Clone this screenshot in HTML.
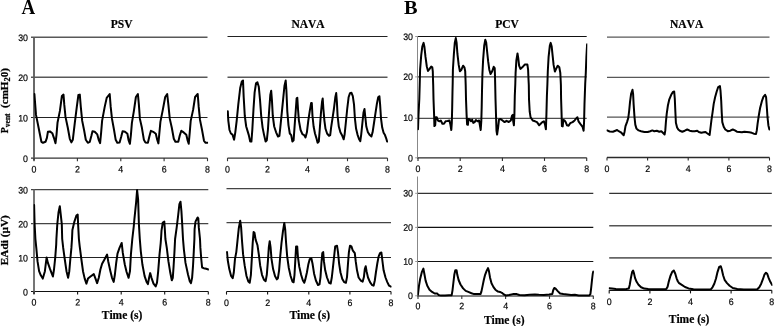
<!DOCTYPE html>
<html><head><meta charset="utf-8"><title>Figure</title>
<style>
html,body{margin:0;padding:0;background:#fff;}
svg{display:block;}
.tk{font-family:"Liberation Sans","DejaVu Sans",sans-serif;font-size:9.4px;fill:#000;stroke:#000;stroke-width:0.18px;}
.ttl{font-kerning:none;font-family:"Liberation Serif","DejaVu Serif",serif;font-weight:bold;font-size:11.5px;fill:#000;stroke:#000;stroke-width:0.2px;}
.big{font-family:"Liberation Serif","DejaVu Serif",serif;font-weight:bold;font-size:19px;fill:#000;}
.yl{font-family:"Liberation Serif","DejaVu Serif",serif;font-weight:bold;font-size:10.5px;fill:#000;stroke:#000;stroke-width:0.25px;}
.sub{font-size:8px;}
</style></head><body>
<svg width="774" height="326" viewBox="0 0 774 326">
<rect width="774" height="326" fill="#fff"/>
<line x1="31" y1="37.2" x2="207.5" y2="37.2" stroke="#585858" stroke-width="1.4"/>
<line x1="31" y1="77.2" x2="207.5" y2="77.2" stroke="#585858" stroke-width="1.4"/>
<line x1="31" y1="117.5" x2="207.5" y2="117.5" stroke="#222" stroke-width="1"/>
<line x1="31" y1="158.1" x2="207.5" y2="158.1" stroke="#333" stroke-width="1.2"/>
<line x1="34" y1="37" x2="34" y2="160.6" stroke="#585858" stroke-width="1.8"/>
<line x1="34.0" y1="158.1" x2="34.0" y2="161.2" stroke="#333" stroke-width="1.1"/>
<text transform="translate(34.0,172.5) rotate(0.03) scale(0.94,1)" class="tk" text-anchor="middle" >0</text>
<line x1="77.4" y1="158.1" x2="77.4" y2="161.2" stroke="#333" stroke-width="1.1"/>
<text transform="translate(77.4,172.5) rotate(0.03) scale(0.94,1)" class="tk" text-anchor="middle" >2</text>
<line x1="120.8" y1="158.1" x2="120.8" y2="161.2" stroke="#333" stroke-width="1.1"/>
<text transform="translate(120.8,172.5) rotate(0.03) scale(0.94,1)" class="tk" text-anchor="middle" >4</text>
<line x1="164.1" y1="158.1" x2="164.1" y2="161.2" stroke="#333" stroke-width="1.1"/>
<text transform="translate(164.1,172.5) rotate(0.03) scale(0.94,1)" class="tk" text-anchor="middle" >6</text>
<line x1="207.5" y1="158.1" x2="207.5" y2="161.2" stroke="#333" stroke-width="1.1"/>
<text transform="translate(207.5,172.5) rotate(0.03) scale(0.94,1)" class="tk" text-anchor="middle" >8</text>
<text transform="translate(28,40.9) rotate(0.03) scale(0.94,1)" class="tk" text-anchor="end" >30</text>
<text transform="translate(28,80.9) rotate(0.03) scale(0.94,1)" class="tk" text-anchor="end" >20</text>
<text transform="translate(28,121.4) rotate(0.03) scale(0.94,1)" class="tk" text-anchor="end" >10</text>
<text transform="translate(28,162.0) rotate(0.03) scale(0.94,1)" class="tk" text-anchor="end" >0</text>
<clipPath id="cA1"><rect x="33.6" y="0" width="174.5" height="326"/></clipPath>
<g clip-path="url(#cA1)">
<path d="M34.4,94.0 L36.0,114.9 L38.0,124.8 L40.0,134.8 L41.4,141.8 L43.0,142.8 L45.5,141.8 L46.9,137.8 L47.9,131.8 L49.9,131.4 L52.3,133.2 L53.9,137.8 L55.5,143.2 L56.5,134.8 L57.5,122.8 L59.9,110.9 L61.9,96.0 L63.5,94.6 L64.3,104.9 L65.5,116.9 L67.8,127.8 L69.8,138.8 L71.4,142.4 L72.8,139.8 L74.8,122.8 L76.8,106.9 L78.4,95.0 L79.8,94.6 L80.8,106.9 L82.2,120.9 L84.2,130.8 L85.8,139.8 L87.8,142.8 L89.8,141.8 L91.4,135.8 L92.5,131.2 L94.7,131.8 L97.3,134.4 L98.7,139.8 L100.1,143.2 L101.1,132.8 L102.1,120.9 L104.7,106.9 L106.7,97.9 L109.7,94.0 L110.7,106.9 L112.0,118.9 L114.0,129.8 L115.7,139.8 L117.3,142.8 L119.6,142.4 L121.2,136.8 L122.6,131.2 L125.0,131.8 L127.4,133.8 L128.5,139.8 L129.9,143.8 L130.9,134.8 L131.9,122.8 L133.9,110.9 L135.9,97.0 L137.9,94.0 L138.9,104.9 L139.9,118.9 L141.9,127.8 L143.9,139.8 L145.3,142.4 L147.9,142.8 L149.3,136.8 L150.9,130.8 L153.2,131.8 L155.8,133.8 L157.2,139.8 L158.4,143.4 L159.2,134.8 L160.4,121.9 L162.8,109.9 L165.2,97.0 L167.2,94.0 L168.4,104.9 L169.8,118.9 L171.8,127.8 L173.8,138.8 L175.4,141.8 L178.3,141.8 L179.7,135.8 L181.3,130.8 L183.7,132.4 L186.3,134.8 L187.7,140.8 L188.7,143.8 L189.7,132.8 L190.7,120.9 L193.1,109.9 L195.1,97.0 L197.7,94.0 L198.7,106.9 L200.0,119.9 L202.0,129.8 L204.0,140.8 L205.6,142.8 L207.6,142.8" fill="none" stroke="#000" stroke-width="2" stroke-linejoin="round" stroke-linecap="round"/>
</g>
<line x1="227.5" y1="36.5" x2="387.5" y2="36.5" stroke="#222" stroke-width="1"/>
<line x1="227.5" y1="77.2" x2="387.5" y2="77.2" stroke="#585858" stroke-width="1.4"/>
<line x1="227.5" y1="117.5" x2="387.5" y2="117.5" stroke="#222" stroke-width="1"/>
<line x1="227.5" y1="158.1" x2="387.5" y2="158.1" stroke="#333" stroke-width="1.2"/>
<line x1="227.5" y1="158.1" x2="227.5" y2="161.2" stroke="#333" stroke-width="1.1"/>
<text transform="translate(227.5,172.5) rotate(0.03) scale(0.94,1)" class="tk" text-anchor="middle" >0</text>
<line x1="267.5" y1="158.1" x2="267.5" y2="161.2" stroke="#333" stroke-width="1.1"/>
<text transform="translate(267.5,172.5) rotate(0.03) scale(0.94,1)" class="tk" text-anchor="middle" >2</text>
<line x1="307.5" y1="158.1" x2="307.5" y2="161.2" stroke="#333" stroke-width="1.1"/>
<text transform="translate(307.5,172.5) rotate(0.03) scale(0.94,1)" class="tk" text-anchor="middle" >4</text>
<line x1="347.5" y1="158.1" x2="347.5" y2="161.2" stroke="#333" stroke-width="1.1"/>
<text transform="translate(347.5,172.5) rotate(0.03) scale(0.94,1)" class="tk" text-anchor="middle" >6</text>
<line x1="387.5" y1="158.1" x2="387.5" y2="161.2" stroke="#333" stroke-width="1.1"/>
<text transform="translate(387.5,172.5) rotate(0.03) scale(0.94,1)" class="tk" text-anchor="middle" >8</text>
<clipPath id="cA2"><rect x="227.1" y="0" width="161.0" height="326"/></clipPath>
<g clip-path="url(#cA2)">
<path d="M227.8,111.3 L228.3,120.6 L229.5,130.0 L230.9,133.5 L232.5,134.6 L234.1,139.7 L235.3,132.3 L236.7,120.6 L238.3,104.3 L240.2,88.0 L241.8,81.5 L243.0,80.5 L243.7,97.3 L244.8,116.0 L246.2,126.5 L247.6,131.1 L248.8,135.1 L250.2,141.6 L251.4,141.6 L252.3,130.0 L253.5,109.0 L254.6,92.7 L256.0,83.3 L257.4,82.2 L258.8,86.8 L260.0,99.6 L261.2,116.0 L262.6,127.6 L264.0,134.6 L265.6,141.6 L266.8,140.4 L267.9,130.0 L269.1,111.3 L270.3,95.0 L271.2,90.8 L271.9,99.6 L272.8,116.0 L274.2,126.5 L276.1,132.3 L278.0,136.5 L279.4,135.8 L280.3,127.6 L281.7,113.6 L283.1,99.6 L284.5,85.7 L285.7,80.5 L286.4,90.3 L287.3,111.3 L288.5,125.3 L289.8,133.5 L291.2,135.1 L292.4,141.6 L293.6,140.4 L294.5,127.6 L295.7,111.3 L296.6,98.5 L297.3,97.8 L298.0,109.0 L298.9,120.6 L300.6,130.0 L302.4,134.2 L304.1,135.1 L305.5,137.4 L306.9,132.3 L308.3,120.6 L309.7,111.3 L311.1,103.1 L311.8,103.1 L312.5,116.0 L313.6,126.5 L315.0,133.5 L316.4,138.1 L317.6,142.8 L318.8,141.6 L319.7,130.0 L320.9,113.6 L322.0,102.0 L322.7,98.5 L323.4,109.0 L324.4,120.6 L325.5,128.8 L327.1,133.5 L329.0,135.8 L330.2,135.1 L331.1,127.6 L332.5,118.3 L333.9,109.0 L335.3,97.3 L336.2,93.1 L336.9,102.0 L337.6,116.0 L338.8,126.5 L340.4,132.3 L342.3,135.8 L343.7,139.3 L344.6,134.6 L345.8,123.0 L347.2,109.0 L348.6,97.3 L350.0,93.1 L351.4,92.7 L352.8,96.2 L354.0,104.3 L354.9,118.3 L356.1,128.8 L357.5,134.6 L359.1,139.3 L360.3,141.1 L361.2,134.6 L362.4,123.0 L363.5,112.5 L364.5,109.0 L365.2,116.0 L366.3,126.5 L367.9,132.3 L369.8,135.1 L371.4,136.5 L372.6,132.3 L374.0,123.0 L375.4,113.6 L376.8,104.3 L378.2,97.3 L379.4,96.2 L380.1,104.3 L381.0,118.3 L382.2,127.6 L383.6,132.8 L385.0,135.1 L386.1,138.1 L387.1,141.6" fill="none" stroke="#000" stroke-width="2" stroke-linejoin="round" stroke-linecap="round"/>
</g>
<line x1="31" y1="189.6" x2="208.3" y2="189.6" stroke="#444" stroke-width="1.2"/>
<line x1="31" y1="223.6" x2="208.3" y2="223.6" stroke="#444" stroke-width="1.2"/>
<line x1="31" y1="257.5" x2="208.3" y2="257.5" stroke="#222" stroke-width="1"/>
<line x1="31" y1="291.5" x2="208.3" y2="291.5" stroke="#111" stroke-width="1.2"/>
<line x1="34" y1="189.6" x2="34" y2="294.0" stroke="#666" stroke-width="1.8"/>
<line x1="34.0" y1="291.5" x2="34.0" y2="294.6" stroke="#111" stroke-width="1.1"/>
<text transform="translate(34.0,305.6) rotate(0.03) scale(0.94,1)" class="tk" text-anchor="middle" >0</text>
<line x1="77.6" y1="291.5" x2="77.6" y2="294.6" stroke="#111" stroke-width="1.1"/>
<text transform="translate(77.6,305.6) rotate(0.03) scale(0.94,1)" class="tk" text-anchor="middle" >2</text>
<line x1="121.2" y1="291.5" x2="121.2" y2="294.6" stroke="#111" stroke-width="1.1"/>
<text transform="translate(121.2,305.6) rotate(0.03) scale(0.94,1)" class="tk" text-anchor="middle" >4</text>
<line x1="164.7" y1="291.5" x2="164.7" y2="294.6" stroke="#111" stroke-width="1.1"/>
<text transform="translate(164.7,305.6) rotate(0.03) scale(0.94,1)" class="tk" text-anchor="middle" >6</text>
<line x1="208.3" y1="291.5" x2="208.3" y2="294.6" stroke="#111" stroke-width="1.1"/>
<text transform="translate(208.3,305.6) rotate(0.03) scale(0.94,1)" class="tk" text-anchor="middle" >8</text>
<text transform="translate(28,193.5) rotate(0.03) scale(0.94,1)" class="tk" text-anchor="end" >30</text>
<text transform="translate(28,227.5) rotate(0.03) scale(0.94,1)" class="tk" text-anchor="end" >20</text>
<text transform="translate(28,261.4) rotate(0.03) scale(0.94,1)" class="tk" text-anchor="end" >10</text>
<text transform="translate(28,295.4) rotate(0.03) scale(0.94,1)" class="tk" text-anchor="end" >0</text>
<clipPath id="cA3"><rect x="33.6" y="0" width="175.3" height="326"/></clipPath>
<g clip-path="url(#cA3)">
<path d="M34.1,205.1 L34.6,224.1 L35.4,239.0 L36.3,247.9 L37.5,261.2 L39.1,271.2 L40.8,275.3 L42.8,278.6 L44.9,271.2 L45.7,264.5 L46.6,257.6 L47.9,262.9 L49.9,268.7 L51.5,272.8 L52.9,276.5 L54.0,269.5 L55.2,257.9 L56.2,244.6 L56.4,239.0 L57.3,224.1 L58.5,212.5 L59.8,206.2 L60.7,214.2 L61.8,224.1 L62.2,239.0 L63.2,247.9 L64.8,259.5 L66.5,271.2 L68.1,277.8 L69.3,271.2 L70.3,259.5 L71.4,247.9 L72.0,239.0 L72.4,229.9 L74.4,221.6 L76.4,215.5 L77.7,214.5 L78.1,224.1 L78.9,239.0 L79.7,246.3 L81.4,259.5 L83.0,271.2 L84.7,278.6 L86.4,283.6 L88.0,278.6 L90.5,276.5 L93.8,274.1 L95.5,278.6 L97.1,283.1 L98.8,277.8 L100.4,269.5 L102.1,263.7 L104.6,259.2 L107.1,254.6 L108.2,261.2 L110.4,271.2 L112.0,277.8 L113.7,281.9 L114.9,274.5 L116.2,262.9 L117.5,253.7 L119.5,247.9 L121.7,243.0 L122.8,252.9 L124.8,264.5 L126.6,272.0 L128.6,277.8 L130.0,271.0 L130.9,254.6 L132.3,239.0 L133.8,226.0 L134.4,219.2 L136.1,202.6 L137.1,190.1 L138.1,199.3 L138.9,224.1 L139.8,239.0 L140.8,251.3 L142.4,264.5 L144.6,276.1 L146.6,281.9 L147.9,284.1 L149.1,277.8 L150.2,273.1 L151.5,277.8 L153.5,283.6 L155.7,286.4 L157.0,282.7 L158.2,271.1 L159.5,254.6 L160.7,243.0 L161.0,239.0 L161.5,230.7 L162.8,222.5 L164.3,221.6 L164.8,229.1 L165.4,239.0 L166.8,247.9 L168.4,261.2 L170.3,272.8 L171.8,280.3 L172.8,277.8 L173.6,266.2 L174.4,252.9 L175.1,239.0 L176.7,227.4 L178.1,215.8 L179.4,204.2 L180.5,201.7 L181.4,210.9 L182.2,224.1 L183.0,239.0 L183.9,249.6 L185.5,262.9 L188.0,274.5 L189.7,281.1 L191.0,283.1 L192.1,277.8 L193.0,266.2 L193.8,251.3 L194.4,239.0 L194.6,229.1 L195.5,221.6 L197.6,217.5 L198.3,218.3 L198.8,227.4 L200.0,239.0 L200.4,247.9 L201.3,259.5 L202.1,267.5 L203.7,268.2 L206.2,268.7 L208.4,269.5" fill="none" stroke="#000" stroke-width="2" stroke-linejoin="round" stroke-linecap="round"/>
</g>
<line x1="226.5" y1="188.6" x2="391" y2="188.6" stroke="#444" stroke-width="1.2"/>
<line x1="226.5" y1="222.6" x2="391" y2="222.6" stroke="#444" stroke-width="1.2"/>
<line x1="226.5" y1="257.5" x2="391" y2="257.5" stroke="#222" stroke-width="1"/>
<line x1="226.5" y1="291.5" x2="391" y2="291.5" stroke="#111" stroke-width="1.2"/>
<line x1="226.5" y1="291.5" x2="226.5" y2="294.6" stroke="#111" stroke-width="1.1"/>
<text transform="translate(226.5,306.1) rotate(0.03) scale(0.94,1)" class="tk" text-anchor="middle" >0</text>
<line x1="267.6" y1="291.5" x2="267.6" y2="294.6" stroke="#111" stroke-width="1.1"/>
<text transform="translate(267.6,306.1) rotate(0.03) scale(0.94,1)" class="tk" text-anchor="middle" >2</text>
<line x1="308.8" y1="291.5" x2="308.8" y2="294.6" stroke="#111" stroke-width="1.1"/>
<text transform="translate(308.8,306.1) rotate(0.03) scale(0.94,1)" class="tk" text-anchor="middle" >4</text>
<line x1="349.9" y1="291.5" x2="349.9" y2="294.6" stroke="#111" stroke-width="1.1"/>
<text transform="translate(349.9,306.1) rotate(0.03) scale(0.94,1)" class="tk" text-anchor="middle" >6</text>
<line x1="391.0" y1="291.5" x2="391.0" y2="294.6" stroke="#111" stroke-width="1.1"/>
<text transform="translate(391.0,306.1) rotate(0.03) scale(0.94,1)" class="tk" text-anchor="middle" >8</text>
<clipPath id="cA4"><rect x="226.1" y="0" width="165.5" height="326"/></clipPath>
<g clip-path="url(#cA4)">
<path d="M227.0,252.1 L227.7,260.0 L229.3,269.1 L231.1,276.0 L232.7,278.2 L233.8,272.5 L235.0,258.9 L236.3,252.1 L237.5,240.7 L238.8,228.2 L240.2,220.7 L241.1,227.1 L242.0,240.7 L243.1,254.4 L244.7,265.7 L246.5,276.0 L248.4,281.6 L249.7,282.8 L250.9,274.8 L251.8,258.9 L252.7,243.0 L253.6,232.1 L254.5,232.8 L255.6,239.6 L257.5,245.3 L258.8,254.4 L260.2,265.7 L262.0,274.8 L264.0,279.8 L265.6,281.2 L266.8,274.8 L267.9,261.2 L268.8,247.5 L269.7,241.2 L270.6,247.5 L271.5,258.9 L273.1,269.1 L275.0,276.0 L276.8,279.4 L277.9,278.2 L279.1,270.3 L280.2,256.6 L281.5,243.0 L282.9,231.6 L284.3,223.0 L285.2,229.4 L286.1,243.0 L287.2,256.6 L288.8,268.0 L290.6,276.0 L292.5,281.6 L293.6,282.3 L294.5,274.8 L295.4,258.9 L296.1,246.4 L297.2,246.4 L297.9,256.6 L299.3,266.9 L301.1,274.8 L302.9,280.5 L304.3,282.8 L305.3,279.4 L306.9,272.5 L308.3,264.6 L309.7,259.2 L311.4,258.5 L312.5,263.5 L314.1,273.7 L315.9,280.5 L318.0,285.0 L319.5,284.4 L320.5,277.1 L321.4,263.5 L322.3,253.2 L323.2,252.1 L323.9,261.2 L325.2,270.3 L327.0,277.5 L329.1,282.8 L330.7,283.5 L331.8,277.5 L333.0,266.9 L334.1,256.6 L335.2,246.4 L337.0,245.7 L338.0,252.1 L339.1,263.5 L340.5,272.5 L342.3,278.9 L344.1,282.1 L345.9,282.8 L347.0,277.1 L348.0,263.5 L348.9,252.1 L350.0,245.7 L351.4,246.4 L352.7,250.3 L354.8,253.2 L355.7,261.2 L357.0,270.3 L358.6,277.5 L360.7,280.5 L362.7,281.6 L363.9,277.1 L364.8,269.1 L365.7,266.2 L366.6,271.4 L368.0,277.5 L370.0,282.1 L372.0,285.0 L373.6,285.7 L374.8,280.5 L375.9,272.5 L377.3,263.5 L378.6,256.6 L380.0,253.2 L381.4,252.5 L382.3,260.0 L383.6,270.3 L385.5,277.5 L387.3,282.1 L389.1,285.7 L390.9,286.6" fill="none" stroke="#000" stroke-width="2" stroke-linejoin="round" stroke-linecap="round"/>
</g>
<line x1="415.2" y1="36.5" x2="418" y2="36.5" stroke="#999" stroke-width="1"/>
<line x1="418" y1="36.5" x2="586.7" y2="36.5" stroke="#111" stroke-width="1"/>
<line x1="415.2" y1="76.9" x2="418" y2="76.9" stroke="#999" stroke-width="1"/>
<line x1="418" y1="76.9" x2="586.7" y2="76.9" stroke="#4a4a4a" stroke-width="1.3"/>
<line x1="415.2" y1="118.3" x2="418" y2="118.3" stroke="#999" stroke-width="1"/>
<line x1="418" y1="118.3" x2="586.7" y2="118.3" stroke="#222" stroke-width="1"/>
<line x1="415.2" y1="157.8" x2="418" y2="157.8" stroke="#999" stroke-width="1"/>
<line x1="418" y1="157.8" x2="586.7" y2="157.8" stroke="#2a2a2a" stroke-width="1.3"/>
<line x1="417.5" y1="36.5" x2="417.5" y2="158.8" stroke="#888" stroke-width="1"/>
<line x1="418.0" y1="157.8" x2="418.0" y2="160.9" stroke="#2a2a2a" stroke-width="1.1"/>
<text transform="translate(418.0,172.1) rotate(0.03) scale(0.94,1)" class="tk" text-anchor="middle" >0</text>
<line x1="460.2" y1="157.8" x2="460.2" y2="160.9" stroke="#2a2a2a" stroke-width="1.1"/>
<text transform="translate(460.2,172.1) rotate(0.03) scale(0.94,1)" class="tk" text-anchor="middle" >2</text>
<line x1="502.4" y1="157.8" x2="502.4" y2="160.9" stroke="#2a2a2a" stroke-width="1.1"/>
<text transform="translate(502.4,172.1) rotate(0.03) scale(0.94,1)" class="tk" text-anchor="middle" >4</text>
<line x1="544.5" y1="157.8" x2="544.5" y2="160.9" stroke="#2a2a2a" stroke-width="1.1"/>
<text transform="translate(544.5,172.1) rotate(0.03) scale(0.94,1)" class="tk" text-anchor="middle" >6</text>
<line x1="586.7" y1="157.8" x2="586.7" y2="160.9" stroke="#2a2a2a" stroke-width="1.1"/>
<text transform="translate(586.7,172.1) rotate(0.03) scale(0.94,1)" class="tk" text-anchor="middle" >8</text>
<text transform="translate(413,40.0) rotate(0.03) scale(0.94,1)" class="tk" text-anchor="end" >30</text>
<text transform="translate(413,80.1) rotate(0.03) scale(0.94,1)" class="tk" text-anchor="end" >20</text>
<text transform="translate(413,120.9) rotate(0.03) scale(0.94,1)" class="tk" text-anchor="end" >10</text>
<text transform="translate(413,161.5) rotate(0.03) scale(0.94,1)" class="tk" text-anchor="end" >0</text>
<clipPath id="cB1"><rect x="417.6" y="0" width="169.7" height="326"/></clipPath>
<g clip-path="url(#cB1)">
<path d="M418.0,129.3 L418.5,114.9 L419.3,99.0 L419.7,85.0 L420.1,69.7 L421.2,55.3 L422.3,46.6 L423.6,42.9 L424.4,46.6 L425.5,56.9 L426.8,66.5 L428.0,71.0 L429.6,68.9 L431.2,66.5 L432.3,67.3 L432.8,71.3 L433.0,79.3 L433.2,85.0 L433.5,99.0 L434.1,114.9 L434.4,126.1 L435.2,125.3 L435.7,117.3 L436.8,117.3 L437.9,120.5 L439.5,121.3 L440.8,120.5 L442.4,123.7 L444.0,123.7 L445.6,121.3 L447.5,121.0 L449.4,120.5 L450.4,124.5 L451.3,130.0 L451.8,122.9 L452.2,106.9 L452.5,91.0 L452.7,83.0 L452.9,69.7 L453.9,53.7 L454.8,42.6 L455.8,38.1 L456.6,42.6 L457.4,53.7 L458.7,64.9 L459.9,71.3 L461.4,69.7 L463.1,65.7 L464.4,67.3 L465.2,71.3 L465.5,79.3 L465.7,85.0 L466.0,99.0 L466.6,114.9 L467.1,124.5 L467.9,124.8 L468.5,118.9 L469.8,119.7 L471.1,121.3 L472.1,119.7 L473.3,122.9 L474.6,122.1 L475.9,120.0 L477.5,121.3 L479.1,120.5 L479.9,125.3 L480.7,130.0 L481.3,121.3 L481.7,106.9 L482.0,91.0 L482.2,83.0 L482.4,74.5 L483.1,60.1 L484.2,45.8 L485.3,39.7 L486.2,42.6 L487.0,50.5 L488.2,61.7 L489.3,69.7 L490.6,74.1 L492.2,71.3 L493.7,66.8 L494.7,68.1 L495.0,76.1 L495.2,85.0 L495.5,99.0 L496.1,118.1 L496.5,130.8 L497.1,134.6 L498.1,127.7 L499.0,119.7 L500.4,118.9 L502.5,120.5 L504.6,122.1 L506.5,120.8 L508.8,122.0 L510.8,120.5 L512.0,115.7 L512.8,114.9 L513.2,121.3 L513.9,125.3 L514.4,114.9 L514.8,95.8 L515.3,84.0 L515.6,72.9 L516.4,60.1 L517.5,53.4 L518.3,58.5 L519.1,65.7 L520.4,68.9 L522.3,67.3 L524.7,64.6 L527.4,64.6 L528.1,69.7 L528.5,79.3 L528.8,85.0 L529.0,99.0 L529.7,111.7 L530.6,117.3 L532.7,120.5 L535.1,121.3 L537.0,122.1 L539.1,125.3 L540.7,123.7 L542.3,122.1 L543.9,121.3 L545.0,124.5 L545.9,129.3 L546.4,114.9 L546.9,95.8 L547.4,84.0 L547.8,71.3 L548.6,56.9 L549.8,45.8 L550.7,42.9 L551.7,46.6 L552.6,55.3 L553.6,64.9 L554.9,71.6 L556.1,68.9 L557.7,65.7 L559.3,67.3 L560.3,72.9 L560.7,80.8 L560.9,85.0 L561.1,99.0 L561.6,114.9 L561.9,126.1 L562.7,126.4 L563.3,120.0 L564.6,120.5 L565.7,122.1 L567.0,125.3 L568.6,125.7 L570.2,123.2 L572.6,122.1 L574.6,120.5 L576.2,118.4 L577.4,117.3 L578.5,121.3 L580.5,124.1 L582.6,126.9 L583.6,130.8 L584.1,121.3 L584.5,103.7 L585.2,84.0 L585.8,72.9 L586.4,56.9 L587.1,44.2" fill="none" stroke="#000" stroke-width="2" stroke-linejoin="round" stroke-linecap="round"/>
</g>
<line x1="607" y1="37.1" x2="769.5" y2="37.1" stroke="#585858" stroke-width="1.4"/>
<line x1="607" y1="77.4" x2="769.5" y2="77.4" stroke="#585858" stroke-width="1.4"/>
<line x1="607" y1="117.1" x2="769.5" y2="117.1" stroke="#555" stroke-width="1.2"/>
<line x1="607" y1="157.5" x2="769.5" y2="157.5" stroke="#2a2a2a" stroke-width="1.3"/>
<line x1="607.0" y1="157.5" x2="607.0" y2="160.6" stroke="#2a2a2a" stroke-width="1.1"/>
<text transform="translate(607.0,172.1) rotate(0.03) scale(0.94,1)" class="tk" text-anchor="middle" >0</text>
<line x1="647.6" y1="157.5" x2="647.6" y2="160.6" stroke="#2a2a2a" stroke-width="1.1"/>
<text transform="translate(647.6,172.1) rotate(0.03) scale(0.94,1)" class="tk" text-anchor="middle" >2</text>
<line x1="688.2" y1="157.5" x2="688.2" y2="160.6" stroke="#2a2a2a" stroke-width="1.1"/>
<text transform="translate(688.2,172.1) rotate(0.03) scale(0.94,1)" class="tk" text-anchor="middle" >4</text>
<line x1="728.9" y1="157.5" x2="728.9" y2="160.6" stroke="#2a2a2a" stroke-width="1.1"/>
<text transform="translate(728.9,172.1) rotate(0.03) scale(0.94,1)" class="tk" text-anchor="middle" >6</text>
<line x1="769.5" y1="157.5" x2="769.5" y2="160.6" stroke="#2a2a2a" stroke-width="1.1"/>
<text transform="translate(769.5,172.1) rotate(0.03) scale(0.94,1)" class="tk" text-anchor="middle" >8</text>
<clipPath id="cB2"><rect x="606.6" y="0" width="163.5" height="326"/></clipPath>
<g clip-path="url(#cB2)">
<path d="M607.1,130.4 L609.6,131.5 L612.9,131.7 L615.4,130.7 L617.1,130.0 L618.7,131.2 L620.9,132.3 L622.5,134.0 L623.7,135.3 L624.5,132.0 L625.5,126.2 L627.0,122.1 L628.3,117.9 L629.2,110.5 L630.0,102.2 L631.1,93.9 L632.5,89.8 L633.1,93.9 L633.6,103.9 L634.5,117.1 L635.3,124.6 L636.4,128.4 L638.6,130.4 L641.1,131.2 L644.4,132.0 L647.7,132.0 L650.2,131.2 L652.3,130.4 L654.3,131.2 L656.8,130.7 L659.3,131.7 L661.3,131.2 L662.9,132.8 L664.6,134.5 L665.3,130.4 L665.9,122.1 L666.7,113.8 L667.9,105.5 L669.2,99.7 L671.2,94.8 L672.9,91.9 L674.2,91.5 L674.8,98.9 L675.3,110.5 L675.9,122.8 L677.1,127.4 L678.3,129.5 L679.8,130.7 L682.3,131.7 L684.8,130.7 L687.2,129.5 L689.7,130.7 L692.2,131.2 L694.7,131.2 L697.2,130.7 L698.8,132.0 L701.3,132.8 L703.8,132.3 L705.5,132.0 L707.1,133.3 L708.8,134.5 L709.6,135.0 L710.4,128.7 L711.4,120.4 L712.6,112.1 L713.7,103.9 L715.1,97.2 L716.7,91.5 L718.2,87.0 L719.9,86.0 L720.5,90.6 L721.2,100.6 L721.7,112.1 L722.3,122.1 L723.7,126.7 L725.3,129.5 L727.8,131.2 L730.3,130.7 L732.8,129.5 L734.9,130.4 L736.9,131.7 L739.4,132.0 L741.9,132.3 L744.4,131.7 L746.8,132.0 L749.3,132.3 L751.8,132.8 L753.8,133.7 L756.0,134.0 L756.8,130.4 L757.6,123.7 L758.8,115.5 L760.1,108.0 L761.8,101.4 L763.4,96.9 L765.1,94.8 L766.1,97.2 L766.7,105.5 L767.5,117.1 L768.4,125.4 L769.4,129.5" fill="none" stroke="#000" stroke-width="2" stroke-linejoin="round" stroke-linecap="round"/>
</g>
<line x1="415.2" y1="193.3" x2="418" y2="193.3" stroke="#999" stroke-width="1"/>
<line x1="418" y1="193.3" x2="593.3" y2="193.3" stroke="#333" stroke-width="1.2"/>
<line x1="415.2" y1="227.4" x2="418" y2="227.4" stroke="#999" stroke-width="1"/>
<line x1="418" y1="227.4" x2="593.3" y2="227.4" stroke="#111" stroke-width="1.1"/>
<line x1="415.2" y1="261.5" x2="418" y2="261.5" stroke="#999" stroke-width="1"/>
<line x1="418" y1="261.5" x2="593.3" y2="261.5" stroke="#111" stroke-width="1"/>
<line x1="415.2" y1="295.8" x2="418" y2="295.8" stroke="#999" stroke-width="1"/>
<line x1="418" y1="296.0" x2="593.3" y2="296.0" stroke="#585858" stroke-width="1.4"/>
<line x1="417.5" y1="176.5" x2="417.5" y2="296.8" stroke="#888" stroke-width="1"/>
<line x1="418.0" y1="295.8" x2="418.0" y2="298.9" stroke="#333" stroke-width="1.1"/>
<text transform="translate(418.0,309.3) rotate(0.03) scale(0.94,1)" class="tk" text-anchor="middle" >0</text>
<line x1="461.8" y1="295.8" x2="461.8" y2="298.9" stroke="#333" stroke-width="1.1"/>
<text transform="translate(461.8,309.3) rotate(0.03) scale(0.94,1)" class="tk" text-anchor="middle" >2</text>
<line x1="505.6" y1="295.8" x2="505.6" y2="298.9" stroke="#333" stroke-width="1.1"/>
<text transform="translate(505.6,309.3) rotate(0.03) scale(0.94,1)" class="tk" text-anchor="middle" >4</text>
<line x1="549.5" y1="295.8" x2="549.5" y2="298.9" stroke="#333" stroke-width="1.1"/>
<text transform="translate(549.5,309.3) rotate(0.03) scale(0.94,1)" class="tk" text-anchor="middle" >6</text>
<line x1="593.3" y1="295.8" x2="593.3" y2="298.9" stroke="#333" stroke-width="1.1"/>
<text transform="translate(593.3,309.3) rotate(0.03) scale(0.94,1)" class="tk" text-anchor="middle" >8</text>
<text transform="translate(413,196.6) rotate(0.03) scale(0.94,1)" class="tk" text-anchor="end" >30</text>
<text transform="translate(413,230.7) rotate(0.03) scale(0.94,1)" class="tk" text-anchor="end" >20</text>
<text transform="translate(413,264.8) rotate(0.03) scale(0.94,1)" class="tk" text-anchor="end" >10</text>
<text transform="translate(413,299.1) rotate(0.03) scale(0.94,1)" class="tk" text-anchor="end" >0</text>
<clipPath id="cB3"><rect x="417.6" y="0" width="176.3" height="326"/></clipPath>
<g clip-path="url(#cB3)">
<path d="M417.9,294.8 L418.9,286.4 L420.2,278.7 L421.8,272.2 L423.4,268.6 L424.3,273.5 L425.6,280.6 L427.3,285.8 L429.5,289.7 L432.1,291.9 L434.7,293.5 L437.3,293.5 L438.5,295.0 L441.1,295.6 L445.0,295.6 L448.9,295.2 L451.7,295.2 L452.5,290.3 L453.4,282.5 L454.3,274.8 L455.3,270.3 L456.6,270.3 L457.3,274.8 L458.6,280.0 L460.5,284.5 L463.1,288.4 L465.7,290.9 L468.3,291.9 L471.5,293.2 L474.1,294.1 L477.3,294.1 L480.5,294.1 L481.4,291.6 L482.5,286.4 L483.8,280.0 L485.1,274.8 L486.6,270.9 L488.0,268.1 L488.9,270.9 L490.0,277.4 L491.5,283.2 L493.5,287.1 L495.4,289.7 L498.0,291.6 L500.0,291.9 L501.9,292.8 L503.9,294.5 L505.8,295.4 L509.0,295.0 L512.9,294.1 L516.8,294.1 L519.4,295.0 L524.5,295.2 L529.7,294.8 L534.9,294.5 L538.8,294.8 L543.9,295.0 L549.1,294.5 L552.3,294.1 L553.2,290.3 L554.3,288.0 L555.6,288.7 L557.5,290.9 L560.1,293.5 L563.3,294.1 L567.2,294.5 L571.1,295.0 L574.9,294.8 L578.8,295.4 L584.0,295.6 L589.1,295.6 L590.4,294.1 L591.2,287.7 L592.0,280.0 L592.8,273.5 L593.3,271.6" fill="none" stroke="#000" stroke-width="2" stroke-linejoin="round" stroke-linecap="round"/>
</g>
<line x1="609.2" y1="193.3" x2="771.8" y2="193.3" stroke="#333" stroke-width="1.2"/>
<line x1="609.2" y1="225.7" x2="771.8" y2="225.7" stroke="#555" stroke-width="1.4"/>
<line x1="609.2" y1="257.9" x2="771.8" y2="257.9" stroke="#666" stroke-width="1.6"/>
<line x1="609.2" y1="290.3" x2="771.8" y2="290.3" stroke="#111" stroke-width="1.2"/>
<line x1="609.2" y1="290.3" x2="609.2" y2="293.4" stroke="#111" stroke-width="1.1"/>
<text transform="translate(609.2,304.9) rotate(0.03) scale(0.94,1)" class="tk" text-anchor="middle" >0</text>
<line x1="649.9" y1="290.3" x2="649.9" y2="293.4" stroke="#111" stroke-width="1.1"/>
<text transform="translate(649.9,304.9) rotate(0.03) scale(0.94,1)" class="tk" text-anchor="middle" >2</text>
<line x1="690.5" y1="290.3" x2="690.5" y2="293.4" stroke="#111" stroke-width="1.1"/>
<text transform="translate(690.5,304.9) rotate(0.03) scale(0.94,1)" class="tk" text-anchor="middle" >4</text>
<line x1="731.1" y1="290.3" x2="731.1" y2="293.4" stroke="#111" stroke-width="1.1"/>
<text transform="translate(731.1,304.9) rotate(0.03) scale(0.94,1)" class="tk" text-anchor="middle" >6</text>
<line x1="771.8" y1="290.3" x2="771.8" y2="293.4" stroke="#111" stroke-width="1.1"/>
<text transform="translate(771.8,304.9) rotate(0.03) scale(0.94,1)" class="tk" text-anchor="middle" >8</text>
<clipPath id="cB4"><rect x="608.8" y="0" width="163.6" height="326"/></clipPath>
<g clip-path="url(#cB4)">
<path d="M609.2,288.3 L612.0,288.6 L615.9,289.0 L621.1,289.3 L626.3,289.0 L628.8,288.6 L629.7,285.0 L630.8,278.5 L632.1,272.1 L633.1,270.5 L634.0,273.4 L635.0,277.9 L636.6,281.8 L638.5,284.7 L641.1,287.3 L644.3,288.6 L648.2,289.0 L654.7,289.3 L661.1,289.3 L666.3,289.0 L667.6,286.7 L668.9,281.1 L670.4,276.0 L672.1,272.1 L673.8,270.5 L675.2,273.5 L676.6,278.3 L677.9,281.5 L679.1,283.1 L681.8,284.9 L685.0,287.0 L688.6,288.4 L693.4,289.2 L699.8,289.5 L706.3,289.5 L710.8,289.3 L712.5,287.3 L714.3,283.7 L716.0,278.5 L717.5,272.1 L719.2,266.9 L720.8,266.3 L721.8,269.5 L723.1,275.3 L724.6,279.8 L727.0,283.1 L729.6,285.7 L732.8,288.0 L737.3,289.0 L743.8,289.5 L751.5,289.5 L757.3,289.3 L759.3,287.3 L761.2,283.7 L762.9,279.2 L764.4,274.7 L766.0,272.7 L767.3,274.0 L768.6,277.9 L770.3,281.8 L772.2,285.0" fill="none" stroke="#000" stroke-width="2" stroke-linejoin="round" stroke-linecap="round"/>
</g>
<text x="308" y="28" class="ttl" text-anchor="middle" >NAVA</text>
<text x="121.6" y="28" class="ttl" text-anchor="middle" >PSV</text>
<text x="507" y="27.5" class="ttl" text-anchor="middle" >PCV</text>
<text x="686.6" y="27.5" class="ttl" text-anchor="middle" >NAVA</text>
<text transform="translate(21.6,13.9) scale(0.92,1)" class="big" style="font-size:20.6px">A</text>
<text transform="translate(403.9,13.8) scale(1.07,1)" class="big">B</text>
<text x="122" y="319.3" class="ttl" text-anchor="middle" >Time (s)</text>
<text x="309.7" y="319.2" class="ttl" text-anchor="middle" >Time (s)</text>
<text x="504.2" y="323.8" class="ttl" text-anchor="middle" >Time (s)</text>
<text x="689" y="323.3" class="ttl" text-anchor="middle" >Time (s)</text>
<text class="yl" text-anchor="start" transform="translate(7.6,133.2) rotate(-90)" textLength="19.8" lengthAdjust="spacingAndGlyphs">P<tspan class="sub" dy="2.5">vent</tspan></text>
<text class="yl" text-anchor="start" transform="translate(7.6,108) rotate(-90)" textLength="40" lengthAdjust="spacingAndGlyphs">(cmH<tspan class="sub" dy="2.5">2</tspan><tspan dy="-2.5">0)</tspan></text>
<text class="yl" text-anchor="middle" transform="translate(8,240.2) rotate(-90)" textLength="50" lengthAdjust="spacingAndGlyphs">EAdi (µV)</text>
</svg>
</body></html>
